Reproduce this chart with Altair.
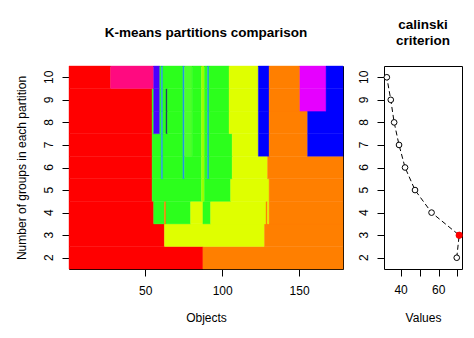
import altair as alt
import pandas as pd

FONT = "Liberation Sans"

# ---------------- data ----------------
n_objects = 178
group_counts = [2, 3, 4, 5, 6, 7, 8, 9, 10]

palette_names = ["red", "orange", "yellow", "green", "lgreen", "ygreen",
                 "teal", "blue", "dark", "violet", "magenta", "pink"]
palette_hex = ["#FF0000", "#FF7F00", "#DFFF00", "#2CFF1C", "#4CFF2A", "#9AFF00",
               "#1F97E8", "#0000FF", "#224466", "#4B00FF", "#E600FF", "#FF0A80"]

# each partition row: segment end (object count) and colour of the segment
k2_ends = [87, 178]
k2_cols = ["red", "orange"]
k3_ends = [62, 127, 178]
k3_cols = ["red", "yellow", "orange"]
k4_ends = [55, 62, 63, 79, 87, 92, 128, 129, 130, 178]
k4_cols = ["red", "green", "orange", "green", "yellow", "green", "yellow", "orange", "yellow", "orange"]
k5_ends = [54, 86, 88, 105, 130, 178]
k5_cols = ["red", "green", "ygreen", "green", "yellow", "orange"]
k6_ends = [54, 60, 61, 74, 75, 86, 88, 90, 91, 106, 129, 178]
k6_cols = ["red", "green", "teal", "green", "teal", "green", "ygreen", "green", "teal", "green", "yellow", "orange"]
k7_ends = [54, 60, 61, 74, 75, 80, 86, 88, 90, 91, 106, 123, 130, 155, 178]
k7_cols = ["red", "green", "teal", "green", "teal", "lgreen", "green", "ygreen", "green", "teal", "green",
           "yellow", "blue", "orange", "blue"]
k8_ends = [54, 55, 59, 60, 61, 63, 64, 74, 75, 80, 86, 88, 90, 91, 104, 123, 130, 155, 178]
k8_cols = ["red", "green", "violet", "green", "teal", "green", "dark", "green", "teal", "lgreen", "green",
           "ygreen", "green", "teal", "green", "yellow", "blue", "orange", "blue"]
k9_ends = [54, 55, 59, 60, 61, 63, 64, 74, 75, 80, 86, 88, 90, 91, 104, 123, 130, 150, 167, 178]
k9_cols = ["red", "green", "violet", "green", "teal", "green", "dark", "green", "teal", "lgreen", "green",
           "ygreen", "green", "teal", "green", "yellow", "blue", "orange", "magenta", "blue"]
k10_ends = [27, 55, 59, 60, 61, 74, 75, 80, 86, 88, 90, 91, 104, 123, 130, 150, 167, 178]
k10_cols = ["red", "pink", "violet", "green", "teal", "green", "teal", "lgreen", "green", "ygreen", "green",
            "teal", "green", "yellow", "blue", "orange", "magenta", "blue"]

# calinski criterion per number of groups
calinski_k = [2, 3, 4, 5, 6, 7, 8, 9, 10]
calinski_values = [69.6, 70.9, 56.2, 47.4, 42.1, 38.9, 36.3, 34.5, 32.4]

x_ticks = [50, 100, 150]
value_ticks = [40, 50, 60, 70]
value_labels = [40, 60]
title_main = ["K-means partitions comparison"]
title_right_1 = ["calinski"]
title_right_2 = ["criterion"]

# ---------------- build tables ----------------
rows = {2: (k2_ends, k2_cols), 3: (k3_ends, k3_cols), 4: (k4_ends, k4_cols),
        5: (k5_ends, k5_cols), 6: (k6_ends, k6_cols), 7: (k7_ends, k7_cols),
        8: (k8_ends, k8_cols), 9: (k9_ends, k9_cols), 10: (k10_ends, k10_cols)}
recs = []
for k in group_counts:
    ends, cols = rows[k]
    start = 0
    for e, c in zip(ends, cols):
        recs.append({"x": start + 0.5, "x2": e + 0.5, "y": k - 0.5, "y2": k + 0.5, "col": c})
        start = e
seg_df = pd.DataFrame(recs)

crit_df = pd.DataFrame({"k": calinski_k, "v": calinski_values})
best_k = calinski_k[calinski_values.index(max(calinski_values))]
ylab_df = pd.DataFrame({"k": group_counts})
vlab_df = pd.DataFrame({"v": value_labels})

color_scale = alt.Scale(domain=palette_names, range=palette_hex)
xs = alt.Scale(domain=[0.5, n_objects + 0.5], nice=False, zero=False)
ys = alt.Scale(domain=[1.5, 10.5], nice=False, zero=False)
vs = alt.Scale(domain=[30.9, 72.4], nice=False, zero=False)

H = 203

# shared axis definitions (tick labels are drawn as text so every one shows)
axis_y_left = alt.Axis(values=group_counts, grid=False, labels=False,
                       title="Number of groups in each partition", titlePadding=33)
axis_x_left = alt.Axis(values=x_ticks, title="Objects", grid=False, labelOverlap=False)
axis_y_right = alt.Axis(values=group_counts, title=None, grid=False, labels=False)
axis_x_right = alt.Axis(values=value_ticks, title="Values", grid=False, labels=False, titlePadding=36)


def text_layer(values, xpos, ypos):
    return alt.Chart(pd.DataFrame({"t": values})).mark_text(
        font=FONT, fontSize=13.5, fontWeight="bold", baseline="middle", align="center", color="black"
    ).encode(text="t:N", x=alt.value(xpos), y=alt.value(ypos))


def ylabels(axis):
    return alt.Chart(ylab_df).mark_text(
        font=FONT, fontSize=12, angle=270, align="center", baseline="bottom", color="black"
    ).encode(y=alt.Y("k:Q", scale=ys, axis=axis), x=alt.value(-13), text="k:Q")


rects = alt.Chart(seg_df).mark_rect(strokeWidth=0.4).encode(
    x=alt.X("x:Q", scale=xs, axis=axis_x_left),
    x2="x2",
    y=alt.Y("y:Q", scale=ys, axis=axis_y_left),
    y2="y2",
    color=alt.Color("col:N", scale=color_scale, legend=None),
    stroke=alt.Stroke("col:N", scale=color_scale, legend=None),
)

left = alt.layer(rects, ylabels(axis_y_left), text_layer(title_main, 137, -33.5)).properties(width=274, height=H)

line = alt.Chart(crit_df).mark_line(color="black", strokeWidth=1, strokeDash=[5, 3]).encode(
    x=alt.X("v:Q", scale=vs, axis=axis_x_right),
    y=alt.Y("k:Q", scale=ys, axis=axis_y_right),
    order="k:Q",
)
pts = alt.Chart(crit_df).mark_point(shape="circle", filled=True, fill="white", stroke="black",
                                    strokeWidth=1, size=32, opacity=1).encode(
    x=alt.X("v:Q", scale=vs, axis=axis_x_right), y=alt.Y("k:Q", scale=ys, axis=axis_y_right))
best = alt.Chart(crit_df).transform_filter(alt.datum.k == best_k).mark_point(
    shape="circle", filled=True, color="#FF0000", size=48, opacity=1).encode(
    x=alt.X("v:Q", scale=vs, axis=axis_x_right), y=alt.Y("k:Q", scale=ys, axis=axis_y_right))
xlabels = alt.Chart(vlab_df).mark_text(
    font=FONT, fontSize=12, align="center", baseline="top", color="black"
).encode(x=alt.X("v:Q", scale=vs, axis=axis_x_right), y=alt.value(H + 16), text="v:Q")

right = alt.layer(line, pts, best, ylabels(axis_y_right), xlabels,
                  text_layer(title_right_1, 39, -41.5),
                  text_layer(title_right_2, 39, -25)).properties(width=78, height=H)

chart = alt.hconcat(left, right, spacing=13).properties(
    padding={"left": 15, "top": 17, "right": 8, "bottom": 5}
).configure_view(stroke="black", strokeWidth=1).configure_axis(
    domain=False, tickColor="black", tickSize=7, tickWidth=1, labelOverlap=False,
    labelFont=FONT, labelFontSize=12, labelColor="black",
    titleFont=FONT, titleFontSize=12, titleFontWeight="normal", titleColor="black",
    labelPadding=9, titlePadding=16
)

chart.save("out.html", embed_options={"renderer": "svg", "actions": False})
